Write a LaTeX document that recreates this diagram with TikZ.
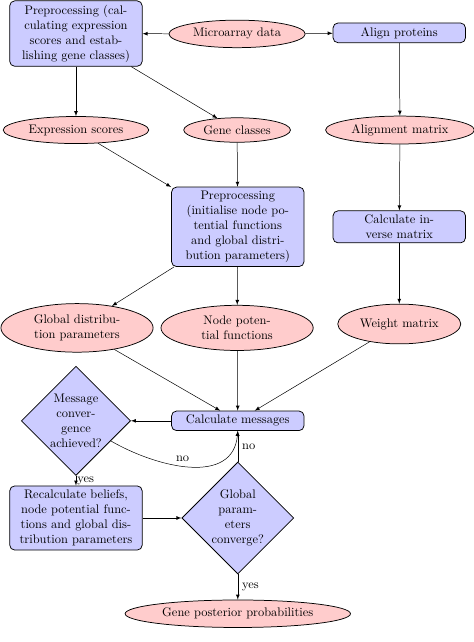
\documentclass[tikz,border=0pt]{standalone}
\usetikzlibrary{shapes.geometric}
\begin{document}
\begin{tikzpicture}[
    block/.style={rectangle, draw, semithick, fill=blue!20, text width=10em,
      align=center, rounded corners},
    cloud/.style={ellipse, draw, semithick, fill=red!20, align=center},
    cloudwide/.style={cloud, text width=8em},
    decision/.style={diamond, draw, semithick, fill=blue!20, text width=4.5em,
      align=center, inner sep=0pt},
    flow/.style={draw, -latex}]
  \useasboundingbox (0,0) rectangle (13.41,-18.17);
  % top row: input data and first processing steps
  \node[block] (pre1) at (2.15,-0.95)
    {Preprocessing (cal-\\culating expression\\scores and estab-\\lishing gene classes)};
  \node[cloud] (micro) at (6.71,-0.96) {Microarray data};
  \node[block] (align) at (11.30,-0.93) {Align proteins};
  % derived quantities
  \node[cloud] (expr) at (2.15,-3.68) {Expression scores};
  \node[cloud] (genes) at (6.71,-3.68) {Gene classes};
  \node[cloud] (alignmat) at (11.32,-3.68) {Alignment matrix};
  \node[block] (pre2) at (6.73,-6.42)
    {Preprocessing\\(initialise node po-\\tential functions\\and global distri-\\bution parameters)};
  \node[block] (inverse) at (11.30,-6.42) {Calculate in-\\verse matrix};
  \node[cloudwide] (globdist) at (2.18,-9.28) {Global distribu-\\tion parameters};
  \node[cloudwide] (nodepot) at (6.71,-9.28) {Node poten-\\tial functions};
  \node[cloud, minimum height=3.2em] (weight) at (11.30,-9.17) {Weight matrix};
  % message passing loop
  \node[block] (calcmsg) at (6.73,-11.91) {Calculate messages};
  \node[decision] (msgconv) at (2.15,-11.91) {Message\\conver-\\gence\\achieved?};
  \node[block] (recalc) at (2.15,-14.66)
    {Recalculate beliefs,\\node potential func-\\tions and global dis-\\tribution parameters};
  \node[decision] (globconv) at (6.73,-14.66) {Global\\param-\\eters\\converge?};
  \node[cloud] (posterior) at (6.73,-17.37) {Gene posterior probabilities};
  % connectors
  \draw[flow] (micro) -- (pre1);
  \draw[flow] (micro) -- (align);
  \draw[flow] (pre1) -- (expr);
  \draw[flow] (pre1) -- (genes);
  \draw[flow] (align) -- (alignmat);
  \draw[flow] (expr) -- (pre2);
  \draw[flow] (genes) -- (pre2);
  \draw[flow] (alignmat) -- (inverse);
  \draw[flow] (inverse) -- (weight);
  \draw[flow] (pre2) -- (globdist);
  \draw[flow] (pre2) -- (nodepot);
  \draw[flow] (globdist) -- (calcmsg);
  \draw[flow] (nodepot) -- (calcmsg);
  \draw[flow] (weight) -- (calcmsg);
  \draw[flow] (calcmsg) -- (msgconv);
  \draw[flow] (msgconv) -- node[right, inner sep=1pt] {yes} (recalc);
  \draw[flow] (msgconv.-30) to[out=-30, in=-95, looseness=1.1]
    node[pos=0.45, above] {no} (calcmsg.south);
  \draw[flow] (recalc) -- (globconv);
  \draw[flow] (globconv) -- node[right] {no} (calcmsg);
  \draw[flow] (globconv) -- node[right] {yes} (posterior);
\end{tikzpicture}
\end{document}
